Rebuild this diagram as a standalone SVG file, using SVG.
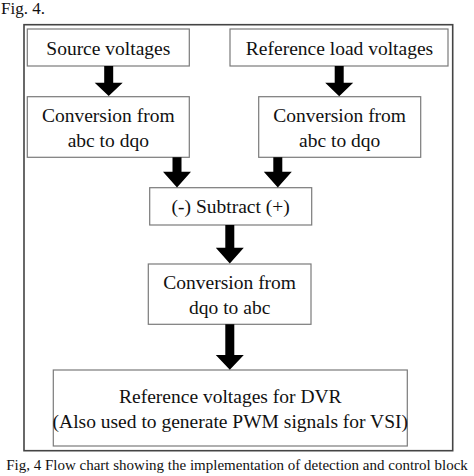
<svg xmlns="http://www.w3.org/2000/svg" width="474" height="476" viewBox="0 0 474 476">
<style>
.box{fill:#fff;stroke:#7a7a7a;stroke-width:1.2}
.frame{fill:none;stroke:#444;stroke-width:1.6}
.t{font-size:19.5px;text-anchor:middle}
.cap{font-size:15px}
.arr{fill:#000}
</style>
<rect width="474" height="476" fill="#fff"/>
<g font-family="'Liberation Serif', 'Times New Roman', serif" fill="#111">
<text x="1" y="14" font-size="17">Fig. 4.</text>
<rect class="frame" x="24" y="24.7" width="428.7" height="426"/>
<g id="source">
<rect class="box" x="27.3" y="29" width="162" height="37"/>
<text class="t" x="108.3" y="54.5">Source voltages</text>
</g>
<g id="refload">
<rect class="box" x="230" y="29" width="218" height="37"/>
<text class="t" x="339.5" y="54.5">Reference load voltages</text>
</g>
<g id="conv1">
<rect class="box" x="27.3" y="96.7" width="162" height="60.6"/>
<text class="t" x="108.3" y="121.7">Conversion from</text>
<text class="t" x="108.3" y="146.7">abc to dqo</text>
</g>
<g id="conv2">
<rect class="box" x="258.7" y="96.7" width="162" height="60.6"/>
<text class="t" x="339.7" y="121.7">Conversion from</text>
<text class="t" x="339.7" y="146.7">abc to dqo</text>
</g>
<g id="subtract">
<rect class="box" x="149.7" y="187.7" width="162" height="37.3"/>
<text class="t" x="230.7" y="213.3">(-) Subtract (+)</text>
</g>
<g id="conv3">
<rect class="box" x="148.3" y="264" width="162.7" height="60.3"/>
<text class="t" x="229.7" y="288.5">Conversion from</text>
<text class="t" x="229.7" y="313.5">dqo to abc</text>
</g>
<g id="output">
<rect class="box" x="53.3" y="370" width="354" height="76"/>
<text class="t" x="230.3" y="402.7">Reference voltages for DVR</text>
<text class="t" x="230.3" y="427.7">(Also used to generate PWM signals for VSI)</text>
</g>
<g id="connectors">
<polygon class="arr" points="104.2,66 113.2,66 113.2,82.7 122.7,82.7 108.7,96 94.7,82.7 104.2,82.7"/>
<polygon class="arr" points="334.7,66 343.7,66 343.7,82.7 353.2,82.7 339.2,96.2 325.2,82.7 334.7,82.7"/>
<polygon class="arr" points="172.5,157.3 181.5,157.3 181.5,171.7 191,171.7 177,187.5 163,171.7 172.5,171.7"/>
<polygon class="arr" points="273.3,157.3 282.3,157.3 282.3,171.7 291.8,171.7 277.8,187.5 263.8,171.7 273.3,171.7"/>
<polygon class="arr" points="225.3,225 234.3,225 234.3,247.7 243.8,247.7 229.8,263.5 215.8,247.7 225.3,247.7"/>
<polygon class="arr" points="225.3,324.3 234.3,324.3 234.3,355 243.8,355 229.8,369.7 215.8,355 225.3,355"/>
</g>
<text class="cap" x="237" y="469.5" text-anchor="middle">Fig, 4 Flow chart showing the implementation of detection and control block</text>
</g>
</svg>
